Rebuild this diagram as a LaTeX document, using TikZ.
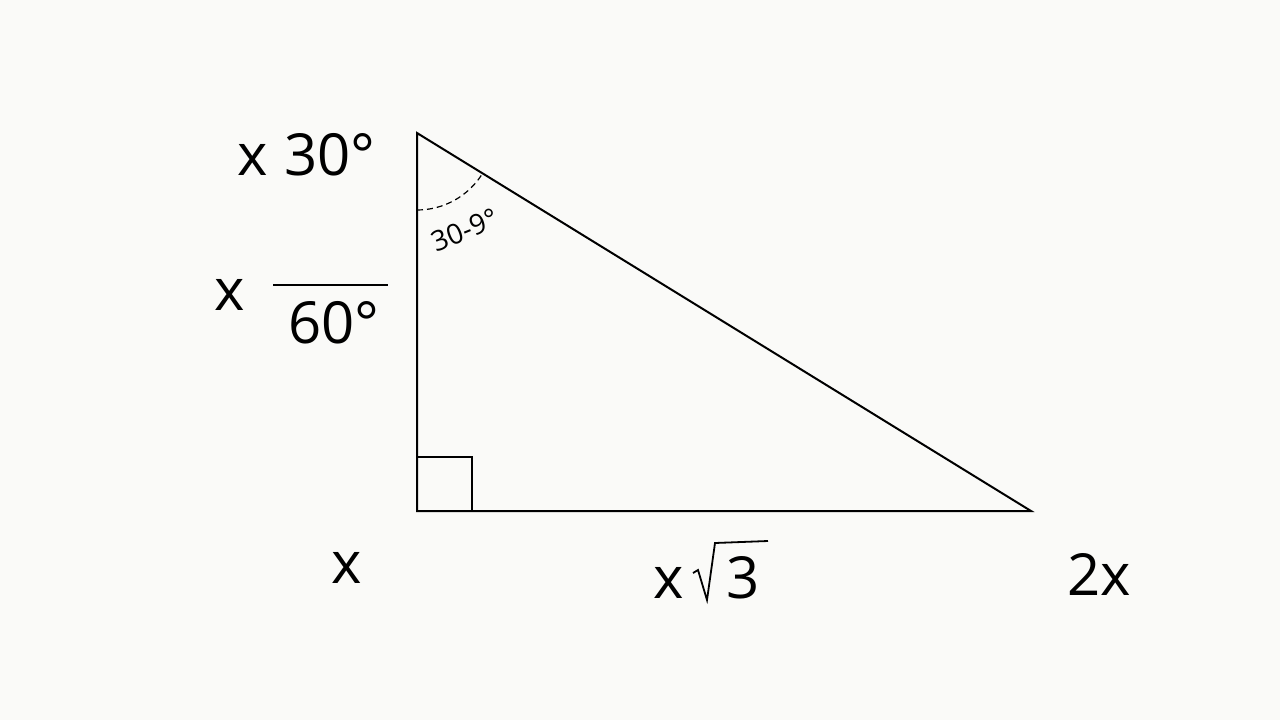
\documentclass[tikz,border=0pt]{standalone}
\usepackage{fontspec}
\setmainfont{Open Sans}
\usepackage{tikz}
\definecolor{paper}{HTML}{FAFAF8}
\tikzset{
  biglbl/.style={inner sep=0pt, font=\fontsize{29}{32}\selectfont},
  smalllbl/.style={inner sep=0pt, font=\fontsize{14}{16}\selectfont}
}
\begin{document}
\begin{tikzpicture}[x=0.5pt,y=0.5pt,line width=1pt]
\fill[paper] (0,0) rectangle (1280,720);
\useasboundingbox (0,0) rectangle (1280,720);
% corners of the triangle
\coordinate (top) at (417,587);
\coordinate (corner) at (417,209);
\coordinate (tip) at (1031,209);
\draw (top) -- (corner) -- (tip) -- cycle;
% right angle mark
\draw (417,263) -- (472,263) -- (472,209);
% angle at the top
\draw[line width=0.6pt, dash pattern=on 3pt off 2pt] (417,510) arc (270:328.4:38.5pt);
\node[smalllbl, rotate=22] (angtop) at (465,490) {30-9°};
% labels on the left
\node[biglbl, anchor=base west] (xa) at (236,545) {x};
\node[biglbl, anchor=base west] (thirty) at (283,545) {30°};
\node[biglbl] (xb) at (230,425) {x};
\draw (273,435) -- (388,435);
\node[biglbl, anchor=base west] (sixty) at (287,377) {60°};
% labels at the base
\node[biglbl] (xc) at (347,152) {x};
\node[biglbl, anchor=base west] (xd) at (652,122) {x};
\node[biglbl, anchor=base west] (three) at (725,122) {3};
\draw[line width=0.9pt] (693,147) -- (698,150) -- (707,120) -- (715,177) -- (768,179);
\node[biglbl, anchor=base west] (twox) at (1066,125) {2x};
\end{tikzpicture}
\end{document}
